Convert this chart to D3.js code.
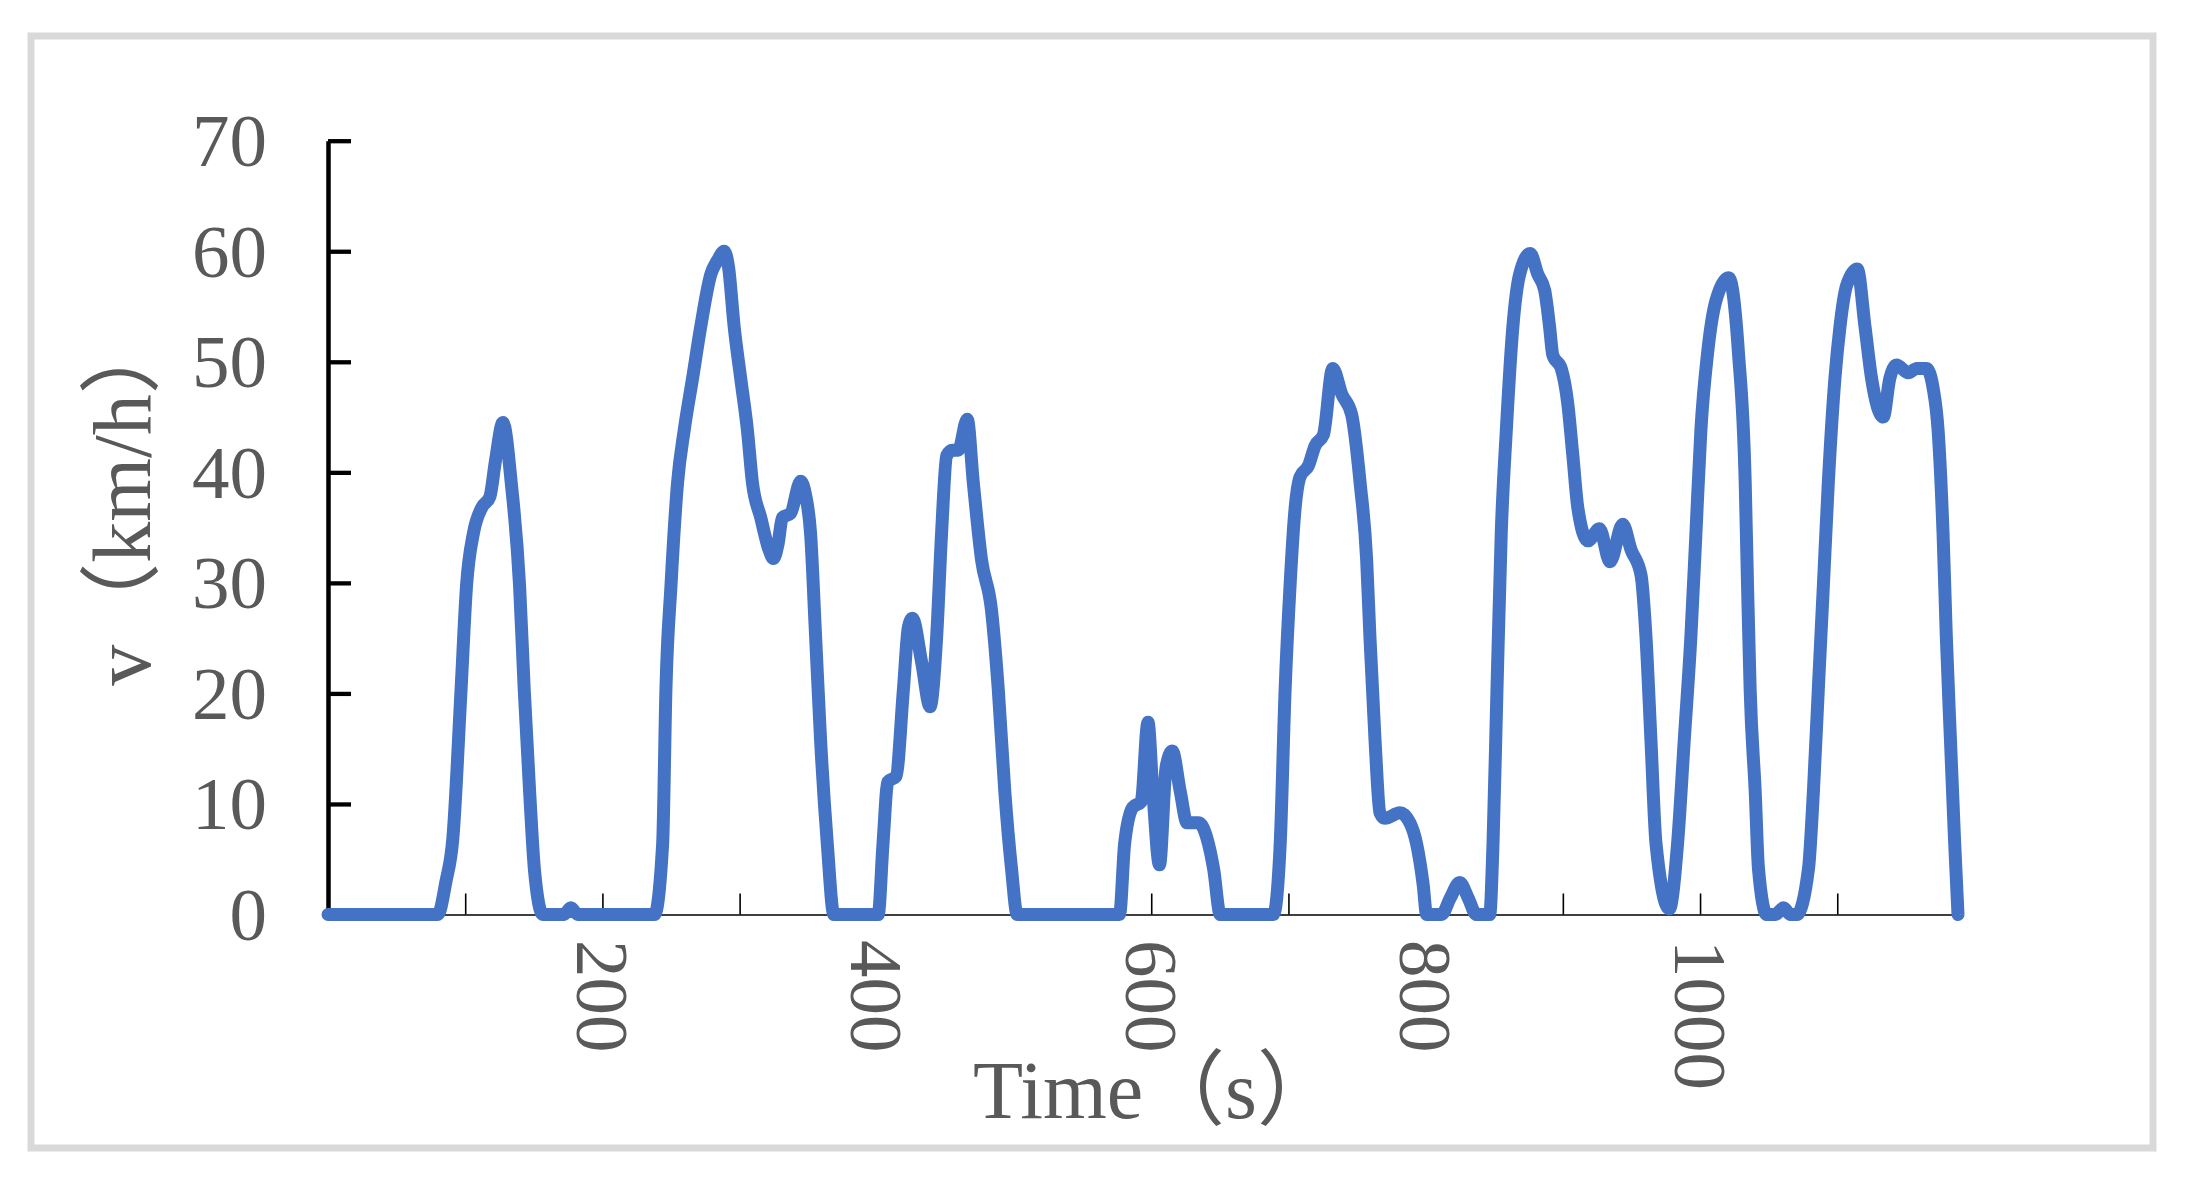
<!DOCTYPE html>
<html>
<head>
<meta charset="utf-8">
<script src="https://cdn.jsdelivr.net/npm/d3@7"></script>
<style>
body { margin: 0; background: white; }
</style>
</head>
<body>
<svg id="chart"></svg>
<script>
// speed trace, time in s, speed in km/h
var time_s = [
	0,80,86,91,97,101,106,112,118,122,127.5,133.6,139.6,143,147,150.5,156.6,172,177,182,
	238,243.9,246.3,250,254.8,259.6,265.7,271.7,279,284,288.7,292,296,300.8,305.7,309.3,315.4,321.4,324.6,328,331.1,337.2,344.5,348,351.7,355.4,359,363.9,368.7,
	401,404.5,408,414,419.4,423,425.9,432.7,438.8,443.6,447.2,450.9,455,459.4,465.9,470.3,476.3,483.6,488.5,493.3,498.2,502.3,
	576.9,580.6,586.6,592.7,597.6,601.2,606,610.9,615.3,621.2,626.1,634.6,640.6,645.5,650.3,
	689.1,694,697.6,701.2,704.9,708.5,714.6,719.4,725.5,732.3,738.8,746.1,752.2,757,759.4,763.1,766.7,770.3,781.2,788.5,793.4,798.2,800.7,
	811.6,818,824.8,831,837,
	846.7,849.1,852,855.1,858.8,863.6,868.5,876.2,881.8,886.7,890.3,892.7,898.8,903.6,907.3,910.9,918.2,926.7,934.4,943.6,949.7,957,960.6,964.2,967.9,977.6,
	983.6,988.5,993.3,997,1000.6,1005.5,1011.5,1021,1028,1032.9,1034.6,1036.5,1040.2,1042.6,1048.6,
	1055,1060.8,1066,1070.5,1079,1082.6,1086.2,1089.9,1093.5,1098.3,1102,1106.8,1114.6,1120.2,1125,1133.5,1138.3,1143.2,1151.7,1158,1165,1169.9,1173.5,1177.1,1179.5,1182.5,1185.6,1188
];
var speed_kmh = [
	0,0,3,6.9,20.4,29.8,34.5,36.8,37.8,41,44.5,39,29.8,20.4,11,4,0,0,0.6,0,
	0,6.4,20.4,29.8,39.1,43.8,48.5,53.2,57.9,59.2,60,58.5,53.2,48.5,43.8,39.1,35.9,33,32.2,33.5,35.9,36.3,39.2,38,34.5,25.1,15.8,6.4,0,
	0,6.4,12,12.5,20.4,26,26.8,22.8,18.8,25.1,34.5,41.5,42,42,44.8,39.1,32.1,27.5,20.4,11.1,4.1,0,
	0,6.4,9.7,10.2,17.4,11.1,4.5,13.4,14.8,11.1,8.3,8.3,6.9,4.1,0,
	0,6.4,20.4,29.8,36.8,39.6,40.6,42.4,43.4,49.4,47.1,45.2,39.1,32.1,25.1,15.8,9.2,8.7,9.2,8.3,6.4,2.7,0,
	0,1.5,2.9,1.5,0,
	0,6.4,20.4,34.5,43.8,53.2,57.9,59.8,57.9,56.5,53.2,50.6,49.4,46.2,41.5,36.8,33.8,34.9,31.9,35.3,33,30.7,25.1,15.8,6.4,0.5,
	6.4,15.8,25.1,34.5,43.8,50.8,55.5,57.6,50.8,39.1,29.8,20.4,11.1,4.1,0,
	0,0.6,0,0,4.1,11.1,20.4,29.8,39.1,48.5,53.2,56.9,58.4,53.2,48.5,45,48.5,49.7,49,49.4,49.4,47.6,43.8,34.5,25.1,15.8,6.4,0
];
var y_ticks = [0,10,20,30,40,50,60,70];
var x_tick_marks = [100,200,300,400,500,600,700,800,900,1000,1100];
var x_tick_labels = [200,400,600,800,1000];
var x_title = "Time（s）";
var y_title = "v（km/h）";

var chart_w = 2186;
var chart_h = 1190;
var blue = "#4472c4";
var grey_text = "#595959";
var serif = "'Liberation Serif', 'Times New Roman', 'Noto Sans CJK SC', serif";

var svg = d3.select("#chart").attr("width", chart_w).attr("height", chart_h);

// frame round the whole figure
svg.append("rect")
	.attr("x", 31).attr("y", 36)
	.attr("width", 2122).attr("height", 1112)
	.attr("fill", "white")
	.attr("stroke", "#d9d9d9").attr("stroke-width", 7);

var x = d3.scaleLinear().domain([0, 1188]).range([328, 1958]);
var y = d3.scaleLinear().domain([0, 70]).range([914.5, 140.7]);

// x axis: thin line, tick marks pointing up, rotated labels
var x_axis = svg.append("g").attr("transform", "translate(0," + y(0) + ")")
	.call(d3.axisBottom(x).tickValues(x_tick_marks).tickSize(-21).tickFormat(""));
x_axis.select(".domain").attr("stroke", "black").attr("stroke-width", 1.6);
x_axis.selectAll(".tick line").attr("stroke", "black").attr("stroke-width", 1.6);

svg.append("g").selectAll("text")
	.data(x_tick_labels)
	.enter().append("text")
	.attr("transform", function(d){ return "translate(" + x(d) + ",940) rotate(90)"; })
	.attr("text-anchor", "start")
	.attr("dominant-baseline", "central")
	.attr("font-family", serif).attr("font-size", 75)
	.attr("fill", grey_text)
	.text(function(d){ return d; });

// y axis: thick line with ticks pointing inward
var y_axis = svg.append("g").attr("transform", "translate(" + x(0) + ",0)")
	.call(d3.axisLeft(y).tickValues(y_ticks).tickSize(-23).tickSizeOuter(0).tickFormat(""));
y_axis.select(".domain").attr("stroke", "black").attr("stroke-width", 4.5);
y_axis.selectAll(".tick line").attr("stroke", "black").attr("stroke-width", 4.3);

svg.append("g").selectAll("text")
	.data(y_ticks)
	.enter().append("text")
	.attr("x", 267).attr("y", function(d){ return y(d); })
	.attr("text-anchor", "end")
	.attr("dominant-baseline", "central")
	.attr("font-family", serif).attr("font-size", 75)
	.attr("fill", grey_text)
	.text(function(d){ return d; });

// speed trace
var pts = d3.zip(time_s, speed_kmh);
var line = d3.line()
	.x(function(d){ return x(d[0]); })
	.y(function(d){ return y(d[1]); })
	.curve(d3.curveMonotoneX);

svg.append("path")
	.datum(pts)
	.attr("d", line)
	.attr("fill", "none")
	.attr("stroke", blue)
	.attr("stroke-width", 13)
	.attr("stroke-linejoin", "round")
	.attr("stroke-linecap", "round");

// axis titles
svg.append("text")
	.attr("x", 1156).attr("y", 1118)
	.attr("text-anchor", "middle")
	.attr("font-family", serif).attr("font-size", 82)
	.attr("fill", grey_text)
	.text(x_title);

svg.append("text")
	.attr("transform", "translate(150,499) rotate(-90)")
	.attr("text-anchor", "middle")
	.attr("font-family", serif).attr("font-size", 82)
	.attr("fill", grey_text)
	.text(y_title);
</script>
</body>
</html>
